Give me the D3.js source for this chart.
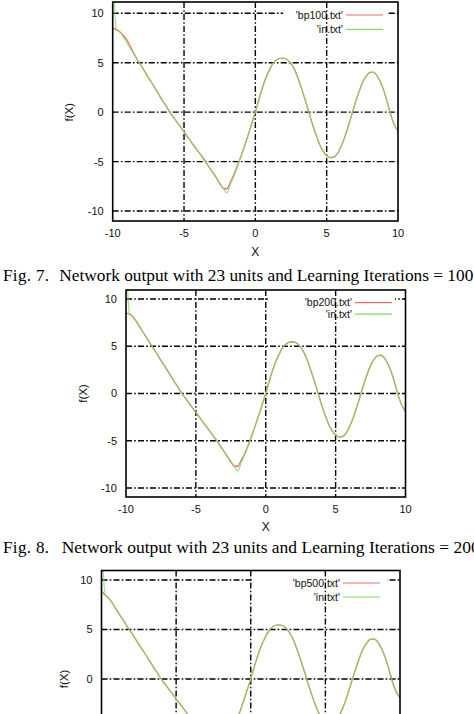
<!DOCTYPE html>
<html><head><meta charset="utf-8">
<script src="https://cdn.jsdelivr.net/npm/d3@7"></script>
<style>html,body{margin:0;padding:0;background:#fff;}svg{display:block;}</style>
</head><body>
<svg id="c" width="474" height="714"></svg>
<script>
// ---- data ----
const xTicks = [-10, -5, 0, 5, 10];
const yTicks = [-10, -5, 0, 5, 10];
const xs = [-10,-9.75,-9.5,-9.25,-9,-8.75,-8.5,-8.25,-8,-7.75,-7.5,-7.25,-7,-6.75,-6.5,-6.25,-6,-5.75,-5.5,-5.25,-5,-4.75,-4.5,-4.25,-4,-3.75,-3.5,-3.25,-3,-2.75,-2.5,-2.25,-2,-1.75,-1.5,-1.25,-1,-0.75,-0.5,-0.25,0,0.25,0.5,0.75,1,1.25,1.5,1.75,2,2.25,2.5,2.75,3,3.25,3.5,3.75,4,4.25,4.5,4.75,5,5.25,5.5,5.75,6,6.25,6.5,6.75,7,7.25,7.5,7.75,8,8.25,8.5,8.75,9,9.25,9.5,9.75,10];
// 'in.txt' (target)
const inTxt = [15,8.45,8.15,7.6,7.0,6.4,5.85,5.25,4.7,4.1,3.5,2.95,2.35,1.75,1.15,0.6,0.0,-0.5,-1.0,-1.5,-2.0,-2.5,-3.0,-3.5,-4.0,-4.5,-5.05,-5.6,-6.1,-6.65,-7.15,-7.7,-8.2,-7.3,-6.45,-5.5,-4.45,-3.4,-2.3,-1.15,0,1.3,2.5,3.5,4.3,4.95,5.3,5.45,5.45,5.3,4.9,4.3,3.4,2.35,1.2,0.0,-1.2,-2.3,-3.25,-3.95,-4.4,-4.6,-4.55,-4.2,-3.5,-2.6,-1.5,-0.3,0.9,2.0,2.95,3.6,4.0,4.05,3.75,3.1,2.2,1.0,-0.3,-1.3,-1.9];
// network outputs
const bp100 = [8.5,8.35,8.1,7.75,7.3,6.6,5.9,5.25,4.7,4.1,3.5,2.95,2.35,1.75,1.15,0.6,0.0,-0.5,-1.0,-1.5,-2.0,-2.5,-3.0,-3.5,-4.0,-4.45,-4.95,-5.55,-6.05,-6.6,-7.2,-7.7,-7.75,-7.1,-6.3,-5.4,-4.45,-3.4,-2.3,-1.15,0,1.3,2.5,3.5,4.3,4.95,5.3,5.45,5.45,5.3,4.9,4.3,3.4,2.35,1.2,0.0,-1.2,-2.3,-3.25,-3.95,-4.4,-4.6,-4.55,-4.2,-3.5,-2.6,-1.5,-0.3,0.9,2.0,2.95,3.6,4.0,4.05,3.75,3.1,2.2,1.0,-0.3,-1.3,-1.9];
const bp200 = [8.5,8.4,8.1,7.6,7.0,6.4,5.85,5.25,4.7,4.1,3.5,2.95,2.35,1.75,1.15,0.6,0.0,-0.5,-1.0,-1.5,-2.0,-2.5,-3.0,-3.5,-4.0,-4.5,-5.0,-5.55,-6.1,-6.65,-7.25,-7.7,-7.7,-7.05,-6.35,-5.45,-4.45,-3.4,-2.3,-1.15,0,1.3,2.5,3.5,4.3,4.95,5.3,5.45,5.45,5.3,4.9,4.3,3.4,2.35,1.2,0.0,-1.2,-2.3,-3.25,-3.95,-4.4,-4.6,-4.55,-4.2,-3.5,-2.6,-1.5,-0.3,0.9,2.0,2.95,3.6,4.0,4.05,3.75,3.1,2.2,1.0,-0.3,-1.3,-1.9];
const bp500 = [8.9,8.45,8.15,7.6,7.0,6.4,5.85,5.25,4.7,4.1,3.5,2.95,2.35,1.75,1.15,0.6,0.0,-0.5,-1.0,-1.5,-2.0,-2.5,-3.0,-3.5,-4.0,-4.5,-5.05,-5.6,-6.1,-6.65,-7.15,-7.7,-8.1,-7.3,-6.45,-5.5,-4.45,-3.4,-2.3,-1.15,0,1.3,2.5,3.5,4.3,4.95,5.3,5.45,5.45,5.3,4.9,4.3,3.4,2.35,1.2,0.0,-1.2,-2.3,-3.25,-3.95,-4.4,-4.6,-4.55,-4.2,-3.5,-2.6,-1.5,-0.3,0.9,2.0,2.95,3.6,4.0,4.05,3.75,3.1,2.2,1.0,-0.3,-1.3,-1.9];
const seriesNames = ["'bp100.txt'", "'bp200.txt'", "'bp500.txt'"];
const targetName = "'in.txt'";
const captionHeads = ["Fig.  7.", "Fig.  8."];
const captionBodies = ["Network output with 23 units and Learning Iterations = 100",
                       "Network output with 23 units and Learning Iterations = 200"];
const xLabel = "X", yLabel = "f(X)";

// ---- layout ----
const H = 714;
const layout = [
  {out: bp100, xr:[112.7,398], yr:[211,13.3], top:2, bottom:221, mask:[283,388], legX:343, legY:15, legDy:14.3, ylabX:69, tickDy:12, xlabDy:30.7, cap:{y:281, x2:59.3, len:414}},
  {out: bp200, xr:[126,405.5], yr:[488,299], top:290, bottom:497, mask:[268,395], legX:352, legY:302.7, legDy:11.5, ylabX:83, tickDy:12.3, xlabDy:29.7, cap:{y:553, x2:61.7, len:418}},
  {out: bp500, xr:[101.5,400], yr:[778,580], top:570.5, bottom:789, mask:[253,387], legX:340, legY:583, legDy:14, ylabX:64, tickDy:12, xlabDy:30, cap:null}
];

const svg = d3.select("#c");
const RED = "#f06a6a", GREEN = "#7fdc62";
const sans = "'Liberation Sans', Arial, sans-serif";

layout.forEach((L, i) => {
  const x = d3.scaleLinear().domain([-10, 10]).range(L.xr);
  const y = d3.scaleLinear().domain([-10, 10]).range(L.yr);
  const g = svg.append("g");
  const left = L.xr[0], right = L.xr[1];
  const clipId = "clip" + i;
  svg.append("clipPath").attr("id", clipId).append("rect")
    .attr("x", left).attr("y", L.top).attr("width", right - left).attr("height", L.bottom - L.top);

  const dash = "6,2.2,1.6,2.2";
  // horizontal grid
  g.selectAll(".hg").data(yTicks).join("line")
    .attr("x1", left).attr("x2", right)
    .attr("y1", d => y(d)).attr("y2", d => y(d))
    .attr("stroke", "#000").attr("stroke-width", 1.4).attr("stroke-dasharray", dash);
  // legend mask over horizontal grid
  g.append("rect").attr("x", L.mask[0]).attr("width", L.mask[1] - L.mask[0])
    .attr("y", L.legY - 9).attr("height", L.legDy + 16).attr("fill", "#fff");
  // vertical grid
  g.selectAll(".vg").data(xTicks.slice(1, -1)).join("line")
    .attr("x1", d => x(d)).attr("x2", d => x(d))
    .attr("y1", L.top).attr("y2", L.bottom)
    .attr("stroke", "#000").attr("stroke-width", 1.4).attr("stroke-dasharray", dash);

  // legend
  const lg = g.append("g").attr("font-family", sans).attr("font-size", 10.5).attr("fill", "#111");
  [[seriesNames[i], RED, 0], [targetName, GREEN, L.legDy]].forEach(([t, c, dy]) => {
    lg.append("text").attr("x", L.legX).attr("y", L.legY + dy).attr("dy", "0.35em")
      .attr("text-anchor", "end").text(t);
    lg.append("line").attr("x1", L.legX + 3).attr("x2", L.legX + 40)
      .attr("y1", L.legY + dy).attr("y2", L.legY + dy).attr("stroke", c).attr("stroke-width", 1.2);
  });

  // curves
  const line = d3.line().x((d, k) => x(xs[k])).y(d => y(d)).curve(d3.curveMonotoneX);
  const cg = g.append("g").attr("clip-path", `url(#${clipId})`);
  cg.append("path").attr("d", line(L.out)).attr("fill", "none")
    .attr("stroke", RED).attr("stroke-width", 1.3);
  cg.append("path").attr("d", line(inTxt)).attr("fill", "none")
    .attr("stroke", GREEN).attr("stroke-width", 1.3).attr("stroke-opacity", 0.75);

  // frame
  g.append("rect").attr("x", left).attr("y", L.top).attr("width", right - left)
    .attr("height", L.bottom - L.top).attr("fill", "none").attr("stroke", "#000").attr("stroke-width", 1.6);

  // tick labels (only those inside the visible page)
  g.selectAll(".yt").data(yTicks.filter(d => y(d) < H - 8)).join("text")
    .attr("x", left - 9).attr("y", d => y(d)).attr("dy", "0.36em")
    .attr("text-anchor", "end").attr("font-family", sans).attr("font-size", 11).attr("fill", "#111")
    .text(d => d);
  if (L.bottom + L.xlabDy < H) {
    g.selectAll(".xt").data(xTicks).join("text")
      .attr("x", d => x(d)).attr("y", L.bottom + L.tickDy).attr("dy", "0.36em")
      .attr("text-anchor", "middle").attr("font-family", sans).attr("font-size", 11).attr("fill", "#111")
      .text(d => d);
    g.append("text").attr("x", (left + right) / 2).attr("y", L.bottom + L.xlabDy).attr("dy", "0.36em")
      .attr("text-anchor", "middle").attr("font-family", sans).attr("font-size", 12).attr("fill", "#111").text(xLabel);
  }
  g.append("text").attr("transform", `translate(${L.ylabX},${y(0)}) rotate(-90)`).attr("dy", "0.36em")
    .attr("text-anchor", "middle").attr("font-family", sans).attr("font-size", 11.5).attr("fill", "#111").text(yLabel);

  if (L.cap) {
    const serif = "'Liberation Serif', 'Times New Roman', serif";
    g.append("text").attr("x", 3).attr("y", L.cap.y).attr("font-family", serif).attr("font-size", 17)
      .attr("textLength", 46).attr("lengthAdjust", "spacing").attr("fill", "#000").text(captionHeads[i]);
    g.append("text").attr("x", L.cap.x2).attr("y", L.cap.y).attr("font-family", serif).attr("font-size", 17)
      .attr("textLength", L.cap.len).attr("lengthAdjust", "spacingAndGlyphs").attr("fill", "#000").text(captionBodies[i]);
  }
});
</script>
</body></html>
